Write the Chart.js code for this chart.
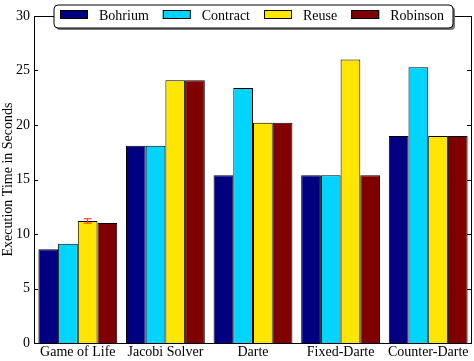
<!DOCTYPE html>
<html>
<head>
<meta charset="utf-8">
<script src="https://cdn.jsdelivr.net/npm/chart.js@4/dist/chart.umd.min.js"></script>
<style>
html,body{margin:0;padding:0;background:#fff;}
#wrap{width:474px;height:361px;}
</style>
</head>
<body>
<div id="wrap"><canvas id="c" width="474" height="361"></canvas></div>
<script>
const categories = ["Game of Life", "Jacobi Solver", "Darte", "Fixed-Darte", "Counter-Darte"];
const seriesNames = ["Bohrium", "Contract", "Reuse", "Robinson"];
const bohrium  = [8.6, 18.1, 15.4, 15.4, 19.0];
const contract = [9.1, 18.1, 23.4, 15.4, 25.3];
const reuse    = [11.2, 24.1, 20.2, 26.0, 19.0];
const robinson = [11.0, 24.1, 20.2, 15.4, 19.0];
const reuseErr = [0.2, 0, 0, 0, 0];
const yTicks = [0, 5, 10, 15, 20, 25, 30];
const colors = ["#000080", "#00d4ff", "#ffe600", "#800000"];
const FONT = "Liberation Serif";

const seriesValues = [bohrium, contract, reuse, robinson];
const errors = [null, null, reuseErr, null];

const framePlugin = {
  id: 'frame',
  afterDatasetsDraw(chart) {
    const ctx = chart.ctx, a = chart.chartArea, y = chart.scales.y;
    ctx.save();
    // error bars
    chart.data.datasets.forEach((ds, di) => {
      const err = errors[di];
      if (!err) return;
      const meta = chart.getDatasetMeta(di);
      meta.data.forEach((bar, i) => {
        if (!err[i]) return;
        const v = ds.data[i];
        const yt = y.getPixelForValue(v + err[i]);
        const yb = y.getPixelForValue(v - err[i]);
        ctx.strokeStyle = '#ff2020';
        ctx.lineWidth = 1;
        ctx.beginPath();
        ctx.moveTo(bar.x, yt); ctx.lineTo(bar.x, yb);
        ctx.moveTo(bar.x - 4, yt); ctx.lineTo(bar.x + 4, yt);
        ctx.moveTo(bar.x - 4, yb); ctx.lineTo(bar.x + 4, yb);
        ctx.stroke();
      });
    });
    // frame
    ctx.strokeStyle = '#000';
    ctx.lineWidth = 1;
    ctx.strokeRect(Math.round(a.left) + 0.5, Math.round(a.top) + 0.5,
                   Math.round(a.right - a.left) - 1, Math.round(a.bottom - a.top));
    // inward ticks
    ctx.beginPath();
    yTicks.forEach(t => {
      const py = Math.round(y.getPixelForValue(t)) + 0.5;
      ctx.moveTo(a.left, py); ctx.lineTo(a.left + 4, py);
      ctx.moveTo(a.right - 1, py); ctx.lineTo(a.right - 5, py);
    });
    ctx.stroke();
    // legend
    const lx = 54, ly = 5, lw = 399, lh = 23, r = 4;
    const rr = (x, yy, w, h) => {
      ctx.beginPath();
      ctx.moveTo(x + r, yy);
      ctx.lineTo(x + w - r, yy); ctx.quadraticCurveTo(x + w, yy, x + w, yy + r);
      ctx.lineTo(x + w, yy + h - r); ctx.quadraticCurveTo(x + w, yy + h, x + w - r, yy + h);
      ctx.lineTo(x + r, yy + h); ctx.quadraticCurveTo(x, yy + h, x, yy + h - r);
      ctx.lineTo(x, yy + r); ctx.quadraticCurveTo(x, yy, x + r, yy);
      ctx.closePath();
    };
    rr(lx + 2, ly + 2, lw, lh);
    ctx.fillStyle = '#7a7a7a';
    ctx.fill();
    rr(lx, ly, lw, lh);
    ctx.fillStyle = '#fff';
    ctx.fill();
    ctx.strokeStyle = '#000';
    ctx.stroke();
    ctx.font = '14px "' + FONT + '"';
    ctx.textBaseline = 'middle';
    ctx.textAlign = 'left';
    let x = 60;
    chart.data.datasets.forEach((ds, di) => {
      ctx.fillStyle = ds.backgroundColor;
      ctx.fillRect(x, 10, 28, 9);
      ctx.strokeStyle = '#000';
      ctx.strokeRect(x + 0.5, 10.5, 27, 8);
      ctx.fillStyle = '#000';
      ctx.fillText(ds.label, x + 39, 16);
      x += 39 + ctx.measureText(ds.label).width + 14;
    });
    ctx.restore();
  }
};

new Chart(document.getElementById('c'), {
  type: 'bar',
  data: {
    labels: categories,
    datasets: seriesNames.map((n, i) => ({
      label: n,
      data: seriesValues[i],
      backgroundColor: colors[i],
      borderColor: '#000',
      borderWidth: 1,
      categoryPercentage: 0.9,
      barPercentage: 1.0
    }))
  },
  options: {
    responsive: false,
    animation: false,
    devicePixelRatio: 1,
    layout: { padding: { top: 16, right: 2, left: 0, bottom: 0 } },
    plugins: { legend: { display: false }, tooltip: { enabled: false } },
    scales: {
      x: {
        grid: { display: false, drawTicks: false },
        border: { display: false },
        ticks: { color: '#000', font: { family: FONT, size: 14 }, padding: 1, maxRotation: 0, autoSkip: false },
        afterFit(s) { s.height = 18; }
      },
      y: {
        min: 0, max: 30,
        afterBuildTicks(s) { s.ticks = yTicks.map(v => ({ value: v })); },
        grid: { display: false, drawTicks: false },
        border: { display: false },
        ticks: { color: '#000', font: { family: FONT, size: 14 }, padding: 4 },
        title: { display: true, text: 'Execution Time in Seconds', color: '#000', font: { family: FONT, size: 14 }, padding: { top: 0, bottom: 0 } },
        afterFit(s) { s.width = 34; }
      }
    }
  },
  plugins: [framePlugin]
});
</script>
</body>
</html>
